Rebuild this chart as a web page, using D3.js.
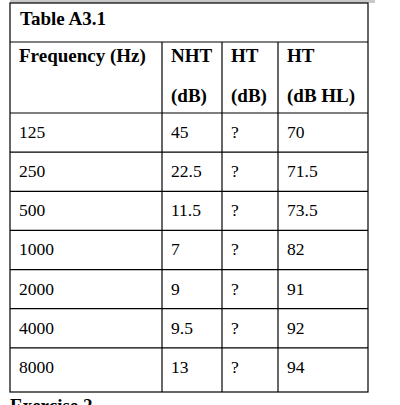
<!DOCTYPE html>
<html><head><meta charset="utf-8">
<script src="https://cdn.jsdelivr.net/npm/d3@7"></script>
<style>body{margin:0;background:#fff}svg{display:block;font-family:"Liberation Serif","Times New Roman",serif}</style>
</head><body><svg id="c"></svg>
<script>
let title = "Table A3.1"
let headers1 = ["Frequency (Hz)", "NHT", "HT", "HT"]
let headers2 = ["", "(dB)", "(dB)", "(dB HL)"]
let frequencies = ["125", "250", "500", "1000", "2000", "4000", "8000"]
let nht = ["45", "22.5", "11.5", "7", "9", "9.5", "13"]
let ht = ["?", "?", "?", "?", "?", "?", "?"]
let htHL = ["70", "71.5", "73.5", "82", "91", "92", "94"]

let width = 400, height = 405
let svg = d3.select('#c').attr('width', width).attr('height', height)

let colEdges = [10, 162, 222, 278, 368]
let rowY = d3.scaleLinear().domain([0, 7]).range([113, 387])
let tableTop = 3, titleBottom = 42, tableBottom = 392

svg.append('rect').attr('x', 10).attr('y', 0).attr('width', 365).attr('height', 3).attr('fill', '#c8c8c8')

let lines = svg.append('g').attr('stroke', '#000').attr('stroke-width', 1.2)
lines.append('rect').attr('x', colEdges[0]).attr('y', tableTop).attr('width', colEdges[4] - colEdges[0]).attr('height', tableBottom - tableTop).attr('fill', 'none')
lines.append('line').attr('x1', colEdges[0]).attr('x2', colEdges[4]).attr('y1', titleBottom).attr('y2', titleBottom)
d3.range(0, 7).forEach(i => {
  lines.append('line').attr('x1', colEdges[0]).attr('x2', colEdges[4]).attr('y1', rowY(i)).attr('y2', rowY(i))
})
colEdges.slice(1, 4).forEach(x => {
  lines.append('line').attr('x1', x).attr('x2', x).attr('y1', titleBottom).attr('y2', tableBottom)
})

svg.append('text').attr('x', 20).attr('y', 25).attr('font-size', 19).attr('font-weight', 'bold').text(title)
headers1.forEach((h, j) => {
  svg.append('text').attr('x', colEdges[j] + 9).attr('y', 62).attr('font-size', 19).attr('font-weight', 'bold').text(h)
  svg.append('text').attr('x', colEdges[j] + 9).attr('y', 102).attr('font-size', 19).attr('font-weight', 'bold').text(headers2[j])
})
let cols = [frequencies, nht, ht, htHL]
cols.forEach((col, j) => {
  svg.selectAll(null).data(col).enter().append('text')
    .attr('x', colEdges[j] + 9)
    .attr('y', (d, i) => rowY(i) + 25)
    .attr('font-size', 17.5)
    .text(d => d)
})
svg.append('text').attr('x', 10).attr('y', 412).attr('font-size', 19).attr('font-weight', 'bold').text('Exercise 2')
</script></body></html>
